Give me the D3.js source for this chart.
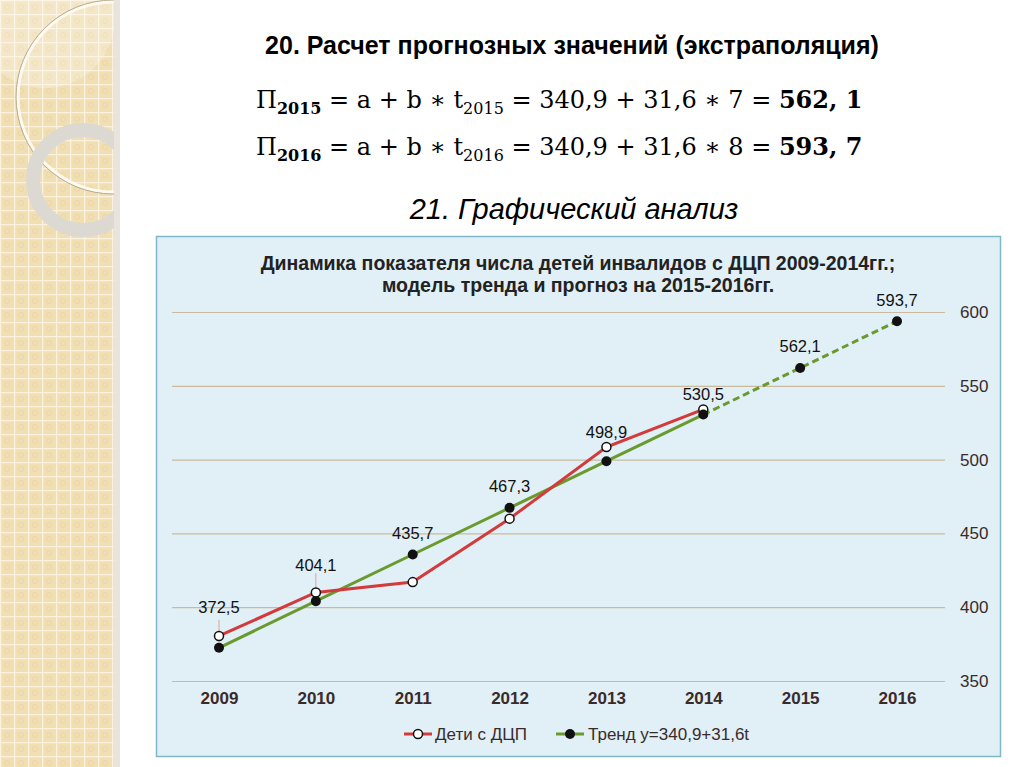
<!DOCTYPE html>
<html>
<head>
<meta charset="utf-8">
<script src="https://cdn.jsdelivr.net/npm/d3@7"></script>
<style>
  body { margin: 0; background: #fff; }
  svg { display: block; }
</style>
</head>
<body>
<script>
'use strict';

// chart data
const years = [2009, 2010, 2011, 2012, 2013, 2014, 2015, 2016];
const actualYears = [2009, 2010, 2011, 2012, 2013, 2014];
const actualValues = [380.5, 410, 417, 460, 508.5, 534];
const trendValues = [372.5, 404.1, 435.7, 467.3, 498.9, 530.5, 562.1, 593.7];
const trendLabels = ['372,5', '404,1', '435,7', '467,3', '498,9', '530,5', '562,1', '593,7'];
const yTicks = [350, 400, 450, 500, 550, 600];

const svg = d3.select('body').append('svg')
  .attr('width', 1024)
  .attr('height', 767);

// left decorative strip
const defs = svg.append('defs');
const pat = defs.append('pattern')
  .attr('id', 'grid').attr('width', 14).attr('height', 14)
  .attr('patternUnits', 'userSpaceOnUse');
pat.append('rect').attr('width', 14).attr('height', 14).attr('fill', '#f1dfb4');
pat.append('path').attr('d', 'M0 0.5H14M0.5 0V14')
  .attr('stroke', '#fbf1dc').attr('stroke-width', 1.5);
pat.append('circle').attr('cx', 7).attr('cy', 7).attr('r', 2.5)
  .attr('fill', 'none').attr('stroke', '#ead2a0').attr('stroke-width', 0.8);

svg.append('rect').attr('x', 0).attr('y', 0).attr('width', 114).attr('height', 767)
  .attr('fill', 'url(#grid)');
svg.append('rect').attr('x', 114).attr('y', 0).attr('width', 6).attr('height', 767)
  .attr('fill', '#e8e4dc');

const clip = defs.append('clipPath').attr('id', 'strip');
clip.append('rect').attr('width', 114).attr('height', 767);
const deco = svg.append('g').attr('clip-path', 'url(#strip)');
deco.append('circle').attr('cx', 45).attr('cy', 18).attr('r', 70)
  .attr('fill', '#ffffff').attr('opacity', 0.25);
deco.append('circle').attr('cx', 113).attr('cy', 97).attr('r', 95)
  .attr('fill', 'none').attr('stroke', '#fffaf0').attr('stroke-width', 3);
deco.append('circle').attr('cx', 113).attr('cy', 97).attr('r', 97)
  .attr('fill', 'none').attr('stroke', '#b9ac96').attr('stroke-width', 1);
deco.append('circle').attr('cx', 83).attr('cy', 180).attr('r', 50)
  .attr('fill', 'none').attr('stroke', '#dcd9d2').attr('stroke-width', 14);

const sans = 'Liberation Sans, Arial, sans-serif';

// headings
svg.append('text').attr('x', 572).attr('y', 54)
  .attr('text-anchor', 'middle')
  .style('font-family', sans)
  .style('font-size', '25px').style('font-weight', 'bold')
  .text('20. Расчет прогнозных значений (экстраполяция)');

function formula(y, sub, t, k, res) {
  const txt = svg.append('text').attr('x', 256).attr('y', y)
    .style('font-family', 'DejaVu Serif, serif').style('font-size', '24px');
  txt.append('tspan').text('П');
  txt.append('tspan').attr('dy', 6).style('font-size', '16px').style('font-weight', 'bold').text(sub);
  txt.append('tspan').attr('dy', -6).text(' = a + b ∗ t');
  txt.append('tspan').attr('dy', 6).style('font-size', '16px').text(t);
  txt.append('tspan').attr('dy', -6).text(' = 340,9 + 31,6 ∗ ' + k + ' = ');
  txt.append('tspan').style('font-weight', 'bold').text(res);
}
formula(108, '2015', '2015', 7, '562, 1');
formula(155, '2016', '2016', 8, '593, 7');

svg.append('text').attr('x', 574).attr('y', 219)
  .attr('text-anchor', 'middle')
  .style('font-family', sans)
  .style('font-size', '29px').style('font-style', 'italic')
  .text('21. Графический анализ');

// chart box
svg.append('rect').attr('x', 156.5).attr('y', 236.5).attr('width', 844).attr('height', 520)
  .attr('fill', '#e1eff6').attr('stroke', '#7fb8c8').attr('stroke-width', 1.5);

svg.append('text').attr('x', 578).attr('y', 270).attr('text-anchor', 'middle')
  .style('font-family', sans)
  .style('font-size', '19.5px').style('font-weight', 'bold').attr('fill', '#222')
  .text('Динамика показателя числа детей инвалидов с ДЦП 2009-2014гг.;');
svg.append('text').attr('x', 578).attr('y', 292).attr('text-anchor', 'middle')
  .style('font-family', sans)
  .style('font-size', '19.5px').style('font-weight', 'bold').attr('fill', '#222')
  .text('модель тренда и прогноз на 2015-2016гг.');

const x = d3.scalePoint().domain(years).range([219, 897]);
const y = d3.scaleLinear().domain([350, 600]).range([681, 312]);

// gridlines
svg.append('g').selectAll('line').data(yTicks).enter().append('line')
  .attr('x1', 172).attr('x2', 945)
  .attr('y1', d => y(d) + 0.5).attr('y2', d => y(d) + 0.5)
  .attr('stroke', '#c9bb9c').attr('stroke-width', 1.2);

// right axis
const yAxis = d3.axisRight(y).tickValues(yTicks).tickSize(0).tickPadding(0);
const ya = svg.append('g').attr('transform', 'translate(960,0)').call(yAxis);
ya.select('.domain').remove();
ya.selectAll('text')
  .style('font-family', sans)
  .style('font-size', '17px').attr('fill', '#3a2a2a');

// bottom axis labels
const xAxis = d3.axisBottom(x).tickSize(0).tickPadding(0);
const xa = svg.append('g').attr('transform', 'translate(0,692)').call(xAxis);
xa.select('.domain').remove();
xa.selectAll('text')
  .style('font-family', sans)
  .style('font-size', '17px').style('font-weight', 'bold').attr('fill', '#3a2a2a');

const line = d3.line().x(d => x(d[0])).y(d => y(d[1]));

// trend line: solid over the data years, dashed for the forecast
const trendPts = years.map((yr, i) => [yr, trendValues[i]]);
svg.append('path').datum(trendPts.slice(0, 6)).attr('d', line)
  .attr('fill', 'none').attr('stroke', '#6a9a2e').attr('stroke-width', 3);
svg.append('path').datum(trendPts.slice(5)).attr('d', line)
  .attr('fill', 'none').attr('stroke', '#6a9a2e').attr('stroke-width', 3)
  .attr('stroke-dasharray', '7,4');

// actual line
const actPts = actualYears.map((yr, i) => [yr, actualValues[i]]);
svg.append('path').datum(actPts).attr('d', line)
  .attr('fill', 'none').attr('stroke', '#d43a3a').attr('stroke-width', 3);

// label leader lines
svg.append('g').selectAll('line').data(trendPts.slice(0, 2)).enter().append('line')
  .attr('x1', d => x(d[0])).attr('x2', d => x(d[0]))
  .attr('y1', d => y(d[1]) - 28).attr('y2', d => y(d[1]) - 5)
  .attr('stroke', '#e0a0a0').attr('stroke-width', 1);

svg.append('g').selectAll('circle').data(actPts).enter().append('circle')
  .attr('cx', d => x(d[0])).attr('cy', d => y(d[1])).attr('r', 4.5)
  .attr('fill', '#fff').attr('stroke', '#111').attr('stroke-width', 1.5);
svg.append('g').selectAll('circle').data(trendPts).enter().append('circle')
  .attr('cx', d => x(d[0])).attr('cy', d => y(d[1])).attr('r', 5)
  .attr('fill', '#111');

// data labels
const labelDy = [-35, -30, -16, -16, -23, -15, -16, -15];
svg.append('g').selectAll('text').data(trendPts).enter().append('text')
  .attr('x', d => x(d[0]))
  .attr('y', (d, i) => y(d[1]) + labelDy[i])
  .attr('text-anchor', 'middle')
  .style('font-family', sans)
  .style('font-size', '16.5px').attr('fill', '#111')
  .text((d, i) => trendLabels[i]);

// legend
const lg = svg.append('g')
  .style('font-family', sans)
  .style('font-size', '17px');
lg.append('line').attr('x1', 404).attr('x2', 432).attr('y1', 734).attr('y2', 734)
  .attr('stroke', '#d43a3a').attr('stroke-width', 3);
lg.append('circle').attr('cx', 418).attr('cy', 734).attr('r', 4.5)
  .attr('fill', '#fff').attr('stroke', '#111').attr('stroke-width', 1.5);
lg.append('text').attr('x', 435).attr('y', 740).attr('fill', '#3a2a2a').text('Дети с ДЦП');
lg.append('line').attr('x1', 556).attr('x2', 584).attr('y1', 734).attr('y2', 734)
  .attr('stroke', '#6a9a2e').attr('stroke-width', 3);
lg.append('circle').attr('cx', 570).attr('cy', 734).attr('r', 5).attr('fill', '#111');
lg.append('text').attr('x', 588).attr('y', 740).attr('fill', '#3a2a2a').text('Тренд y=340,9+31,6t');
</script>
</body>
</html>
